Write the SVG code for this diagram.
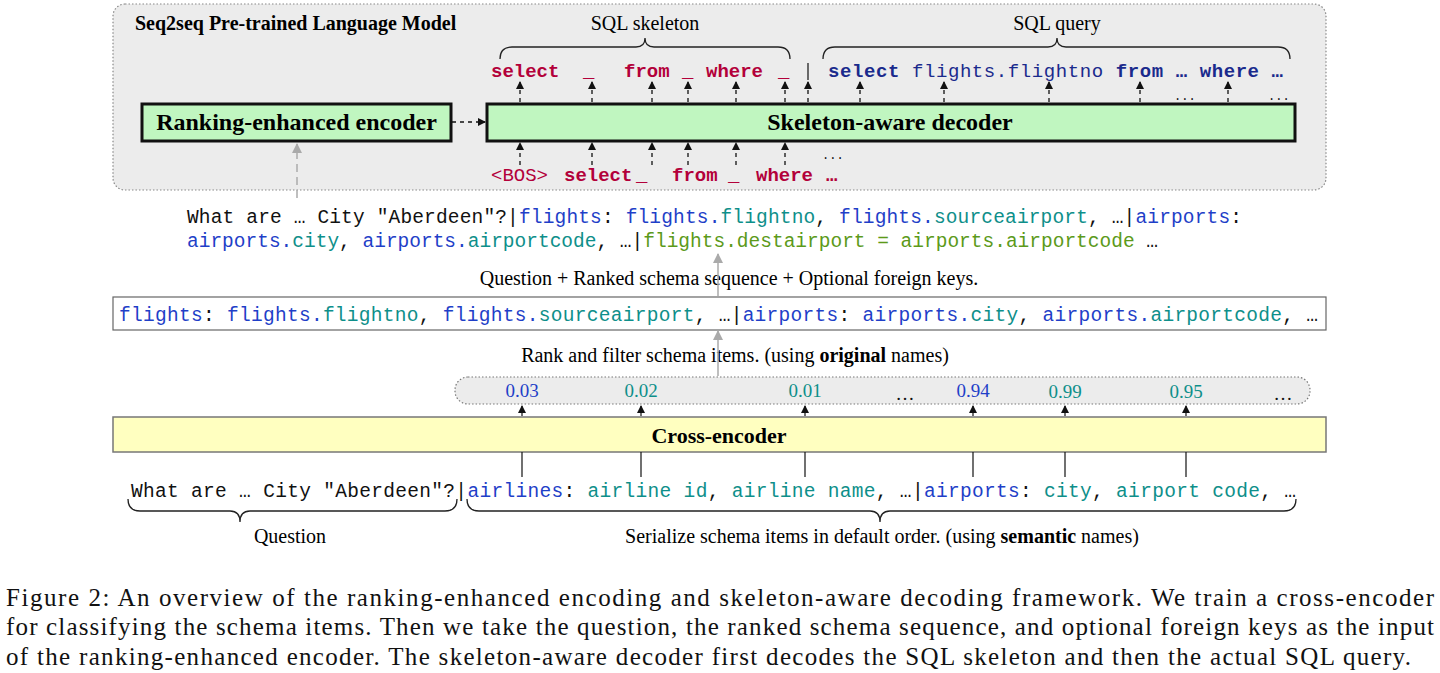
<svg xmlns="http://www.w3.org/2000/svg" width="1440" height="673" viewBox="0 0 1440 673">
<style>
.serif{font-family:"Liberation Serif","DejaVu Serif",serif}
.mono{font-family:"Liberation Mono","DejaVu Sans Mono",monospace}
.b{font-weight:bold}
.r{fill:#b3003a}.nv{fill:#1a2a8c}.bl{fill:#1f3fc8}.tl{fill:#0e8f8a}.gr{fill:#5c9a1a}.k{fill:#111}
.arr{stroke:#111;stroke-width:1.3;stroke-dasharray:4 4;marker-end:url(#ah)}
.sol{stroke:#111;stroke-width:1.2;fill:none}
.brace{stroke:#222;stroke-width:1.3;fill:none}
</style>
<defs>
<marker id="ah" markerWidth="8" markerHeight="8" refX="7" refY="4" orient="auto" markerUnits="userSpaceOnUse"><path d="M0,0 L8,4 L0,8 z" fill="#111"/></marker>
<marker id="ahg" markerWidth="10" markerHeight="10" refX="9" refY="5" orient="auto" markerUnits="userSpaceOnUse"><path d="M0,0 L10,5 L0,10 z" fill="#aaa"/></marker>
</defs>
<rect width="1440" height="673" fill="#fff"/>

<g id="plm">
<rect x="113" y="4" width="1213" height="186" rx="12" fill="#ececec" stroke="#888" stroke-width="1.2" stroke-dasharray="1.5 2"/>
<text x="135" y="30" class="serif b" font-size="20">Seq2seq Pre-trained Language Model</text>
<text x="645" y="30" class="serif" font-size="20" text-anchor="middle">SQL skeleton</text>
<text x="1057" y="30" class="serif" font-size="20" text-anchor="middle">SQL query</text>
</g>

<g id="encoder">
<rect x="142" y="104" width="309" height="37" fill="#c0f6c0" stroke="#111" stroke-width="3"/>
<text x="296.5" y="130" class="serif b" font-size="24" text-anchor="middle">Ranking-enhanced encoder</text>
</g>
<g id="decoder">
<rect x="487" y="104" width="808" height="37" fill="#c0f6c0" stroke="#111" stroke-width="3"/>
<text x="890" y="130" class="serif b" font-size="24" text-anchor="middle">Skeleton-aware decoder</text>
</g>

<g id="tokens" class="mono" font-size="19">
<text x="491" y="77" class="r b">select</text>
<text x="583" y="77" class="r b">_</text>
<text x="624" y="77" class="r b">from</text>
<text x="682" y="77" class="r b">_</text>
<text x="706" y="77" class="r b">where</text>
<text x="778" y="77" class="r b">_</text>
<text x="828" y="77" textLength="455" lengthAdjust="spacing"><tspan class="nv b">select</tspan><tspan class="nv"> flights.flightno </tspan><tspan class="nv b">from … where …</tspan></text>
<text x="491" y="181" class="r">&lt;BOS&gt;</text>
<text x="564" y="181" class="r b">select</text>
<text x="636" y="181" class="r b">_</text>
<text x="672" y="181" class="r b">from</text>
<text x="728" y="181" class="r b">_</text>
<text x="756" y="181" class="r b">where</text>
<text x="826" y="181" class="r b">…</text>
<text x="1174" y="100" class="k" font-size="12">...</text>
<text x="1268" y="100" class="k" font-size="12">...</text>
<text x="822" y="159" class="k" font-size="12">...</text>
</g>

<g id="schema-box">
<rect x="113" y="297" width="1213" height="33" fill="#fff" stroke="#666" stroke-width="1.2"/>
<text x="119" y="321" class="mono" font-size="19.5" textLength="1199" lengthAdjust="spacing"><tspan class="bl">flights</tspan><tspan class="k">: </tspan><tspan class="bl">flights.</tspan><tspan class="tl">flightno</tspan><tspan class="k">, </tspan><tspan class="bl">flights.</tspan><tspan class="tl">sourceairport</tspan><tspan class="k">, …|</tspan><tspan class="bl">airports</tspan><tspan class="k">: </tspan><tspan class="bl">airports.</tspan><tspan class="tl">city</tspan><tspan class="k">, </tspan><tspan class="bl">airports.</tspan><tspan class="tl">airportcode</tspan><tspan class="k">, …</tspan></text>
</g>

<g id="input-seq" class="mono" font-size="19.5">
<text x="187" y="223" textLength="1055" lengthAdjust="spacing"><tspan class="k">What are … City "Aberdeen"?|</tspan><tspan class="bl">flights</tspan><tspan class="k">: </tspan><tspan class="bl">flights.</tspan><tspan class="tl">flightno</tspan><tspan class="k">, </tspan><tspan class="bl">flights.</tspan><tspan class="tl">sourceairport</tspan><tspan class="k">, …|</tspan><tspan class="bl">airports</tspan><tspan class="k">:</tspan></text>
<text x="187" y="247" textLength="971" lengthAdjust="spacing"><tspan class="bl">airports.</tspan><tspan class="tl">city</tspan><tspan class="k">, </tspan><tspan class="bl">airports.</tspan><tspan class="tl">airportcode</tspan><tspan class="k">, …|</tspan><tspan class="gr">flights.destairport = airports.airportcode</tspan><tspan class="k"> …</tspan></text>
</g>

<g id="labels" class="serif" font-size="20">
<text x="729" y="285" text-anchor="middle">Question + Ranked schema sequence + Optional foreign keys.</text>
<text x="735" y="362" text-anchor="middle">Rank and filter schema items.  (using <tspan class="b">original</tspan> names)</text>
<text x="290" y="543" text-anchor="middle">Question</text>
<text x="882" y="543" text-anchor="middle">Serialize schema items in default order. (using <tspan class="b">semantic</tspan> names)</text>
</g>

<g id="scores">
<rect x="455" y="377" width="855" height="27" rx="13" fill="#ececec" stroke="#777" stroke-width="1.2" stroke-dasharray="1.5 2"/>
<g class="serif" font-size="19" text-anchor="middle">
<text x="522" y="397" class="bl">0.03</text>
<text x="641" y="397" class="tl">0.02</text>
<text x="805" y="397" class="tl">0.01</text>
<text x="905" y="400" class="k">…</text>
<text x="973" y="397" class="bl">0.94</text>
<text x="1065" y="398" class="tl">0.99</text>
<text x="1186" y="398" class="tl">0.95</text>
<text x="1283" y="400" class="k">…</text>
</g>
</g>

<g id="cross-encoder">
<rect x="113" y="417" width="1213" height="35" fill="#ffffc0" stroke="#777" stroke-width="1.5"/>
<text x="719" y="443" class="serif b" font-size="22" text-anchor="middle">Cross-encoder</text>
</g>

<g id="question-input">
<text x="131" y="497" class="mono" font-size="19.5" textLength="1165" lengthAdjust="spacing"><tspan class="k">What are … City "Aberdeen"?|</tspan><tspan class="bl">airlines</tspan><tspan class="k">: </tspan><tspan class="tl">airline id</tspan><tspan class="k">, </tspan><tspan class="tl">airline name</tspan><tspan class="k">, …|</tspan><tspan class="bl">airports</tspan><tspan class="k">: </tspan><tspan class="tl">city</tspan><tspan class="k">, </tspan><tspan class="tl">airport code</tspan><tspan class="k">, …</tspan></text>
</g>

<g id="connectors">
<!-- braces -->
<path class="brace" d="M500,59 Q500,47 512,47 H636 Q645,47 645,38 Q645,47 654,47 H778 Q790,47 790,59"/>
<path class="brace" d="M823,59 Q823,47 835,47 H1048 Q1057,47 1057,38 Q1057,47 1066,47 H1278 Q1290,47 1290,59"/>
<path class="brace" d="M128,499 Q128,511 140,511 H230 Q240,511 240,522 Q240,511 250,511 H445 Q457,511 457,499"/>
<path class="brace" d="M467,499 Q467,511 479,511 H870 Q880,511 880,522 Q880,511 890,511 H1284 Q1296,511 1296,499"/>
<!-- encoder to decoder -->
<line x1="452" y1="122" x2="485" y2="122" class="arr"/>
<!-- decoder outputs -->
<line x1="520" y1="102" x2="520" y2="82" class="arr"/>
<line x1="592" y1="102" x2="592" y2="82" class="arr"/>
<line x1="652" y1="102" x2="652" y2="82" class="arr"/>
<line x1="688" y1="102" x2="688" y2="82" class="arr"/>
<line x1="736" y1="102" x2="736" y2="82" class="arr"/>
<line x1="785" y1="102" x2="785" y2="82" class="arr"/>
<line x1="808" y1="102" x2="808" y2="82" class="arr"/>
<line x1="808" y1="63" x2="808" y2="80" class="sol" stroke-width="1.5"/>
<line x1="860" y1="102" x2="860" y2="82" class="arr"/>
<line x1="944" y1="102" x2="944" y2="82" class="arr"/>
<line x1="1049" y1="102" x2="1049" y2="82" class="arr"/>
<line x1="1140" y1="102" x2="1140" y2="82" class="arr"/>
<line x1="1228" y1="102" x2="1228" y2="82" class="arr"/>
<!-- decoder inputs -->
<line x1="520" y1="165" x2="520" y2="143" class="arr"/>
<line x1="592" y1="165" x2="592" y2="143" class="arr"/>
<line x1="652" y1="165" x2="652" y2="143" class="arr"/>
<line x1="688" y1="165" x2="688" y2="143" class="arr"/>
<line x1="736" y1="165" x2="736" y2="143" class="arr"/>
<line x1="785" y1="165" x2="785" y2="143" class="arr"/>
<!-- gray flow arrows -->
<line x1="297" y1="198" x2="297" y2="144" stroke="#aaa" stroke-width="1.5" stroke-dasharray="8 5" marker-end="url(#ahg)"/>
<line x1="718" y1="296" x2="718" y2="254" stroke="#aaa" stroke-width="1.5" marker-end="url(#ahg)"/>
<line x1="718" y1="376" x2="718" y2="331" stroke="#aaa" stroke-width="1.5" marker-end="url(#ahg)"/>
<!-- cross-encoder outputs -->
<g stroke="#111" stroke-width="1.2">
<line x1="522" y1="416" x2="522" y2="406" marker-end="url(#ah)"/>
<line x1="641" y1="416" x2="641" y2="406" marker-end="url(#ah)"/>
<line x1="805" y1="416" x2="805" y2="406" marker-end="url(#ah)"/>
<line x1="973" y1="416" x2="973" y2="406" marker-end="url(#ah)"/>
<line x1="1065" y1="416" x2="1065" y2="406" marker-end="url(#ah)"/>
<line x1="1186" y1="416" x2="1186" y2="406" marker-end="url(#ah)"/>
<line x1="522" y1="452" x2="522" y2="477"/>
<line x1="641" y1="452" x2="641" y2="477"/>
<line x1="805" y1="452" x2="805" y2="477"/>
<line x1="973" y1="452" x2="973" y2="477"/>
<line x1="1065" y1="452" x2="1065" y2="477"/>
<line x1="1186" y1="452" x2="1186" y2="477"/>
</g>
</g>

<g id="caption" class="serif" font-size="25" fill="#111">
<text x="6" y="606" textLength="1428" lengthAdjust="spacing">Figure 2:  An overview of the ranking-enhanced encoding and skeleton-aware decoding framework. We train a cross-encoder</text>
<text x="6" y="635" textLength="1428" lengthAdjust="spacing">for classifying the schema items. Then we take the question, the ranked schema sequence, and optional foreign keys as the input</text>
<text x="6" y="665" textLength="1405" lengthAdjust="spacing">of the ranking-enhanced encoder. The skeleton-aware decoder first decodes the SQL skeleton and then the actual SQL query.</text>
</g>
</svg>
